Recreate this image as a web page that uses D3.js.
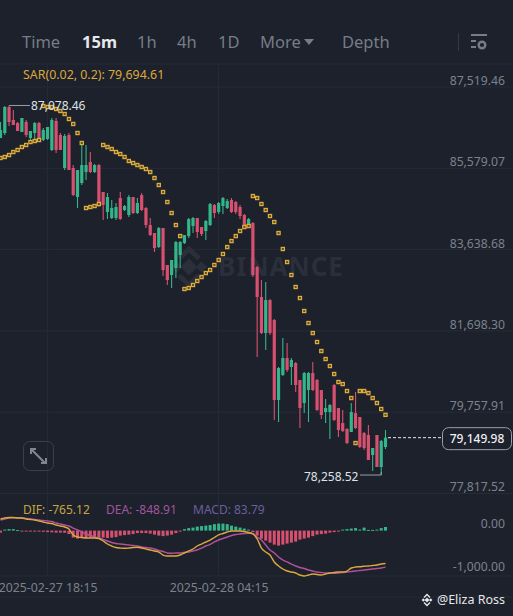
<!DOCTYPE html>
<html>
<head>
<meta charset="utf-8">
<script src="https://cdn.jsdelivr.net/npm/d3@7"></script>
<style>
  html, body { margin: 0; padding: 0; background: #1c212c; }
  svg { display: block; font-family: "Noto Sans", sans-serif; }
</style>
</head>
<body>
<div id="chart"></div>
<script>
// candles
const opens = [86302,86421,87042,86732,86660,86445,86684,86302,86421,86660,
  86254,86278,86016,86708,86374,85586,86374,85586,84894,85228,
  85490,85729,85490,85657,85013,84535,84392,84392,84870,84583,
  84464,84894,84512,84941,84631,84225,84034,83700,84154,83271,
  83032,83199,83510,83795,83962,84201,84392,84177,84082,84225,
  84703,84535,84679,84631,84822,84774,84655,84464,84225,84273,
  83223,82507,81647,82435,81958,80049,80646,81051,80836,80931,
  80526,79977,80287,80693,80526,80287,79762,79762,80407,79858,
  79499,79357,79285,79738,79643,79261,79214,78736,79214,78450,78927];
const closes = [86493,87042,86684,86613,86469,86780,86374,86469,86660,86254,
  86493,86565,86732,86016,86016,86350,85538,84941,85538,85657,
  85657,85490,85657,84750,84703,84894,84631,84655,84368,84679,
  84894,84512,84750,84583,84225,83986,83676,84154,83151,82913,
  83390,83819,83819,83986,84368,84392,84058,84010,84321,84727,
  84512,84750,84870,84798,84535,84535,84440,84225,84368,83032,
  82507,81647,82435,81647,80049,80812,81051,80765,81003,80407,
  79858,80693,80693,80287,79810,79691,79858,79929,79571,79333,
  79309,79022,79762,79381,78927,78903,78617,78903,78450,79070,79149.98];
const highs = [86684,87066,87078.46,86970,86684,86780,86732,86469,86684,86684,
  86541,86565,86780,86780,86421,86398,86421,85657,85538,86135,
  86135,85968,85681,85681,85013,84989,84822,84750,85013,84703,
  84941,84894,84870,84989,84655,84392,84034,84177,84154,83271,
  83390,83843,83843,83986,84392,84416,84392,84177,84345,84750,
  84727,84774,84894,84846,84870,84798,84703,84488,84392,84297,
  83247,82913,82865,82459,81982,80836,81529,81409,81051,80955,
  80526,80717,80717,80955,80550,80287,80073,79953,80430,79858,
  79810,79381,79977,80239,79643,79285,79452,78903,79214,79094,79333];
const lows = [86302,86374,86589,86613,86469,86445,86326,86206,86230,86206,
  86230,86254,85992,85944,86016,85538,85538,84917,84631,85180,
  85300,85466,85466,84655,84345,84368,84368,84345,84345,84559,
  84416,84488,84488,84559,84154,83962,83581,83676,83008,82794,
  82722,82960,83199,83772,83915,84034,83915,83962,83867,84201,
  84392,84488,84488,84607,84512,84488,84368,84201,84201,82984,
  81075,81624,81242,81600,79571,79524,80622,80717,80407,80239,
  79381,79738,79524,80263,79786,79595,79499,79118,79547,79166,
  79285,78998,79285,79357,78903,78855,78617,78354,78450,78258.52,78879];
const sar = [85825,85849,85896,85968,86016,86087,86135,86206,86230,86254,
  87066,87042,87042,86994,86947,86875,86756,86637,86421,86183,
  84631,84655,84679,84727,
  86135,86087,86040,85968,85920,85849,85753,85705,85657,85610,
  85562,85490,85347,85180,85013,84774,84512,84225,83962,
  82698,82722,82794,82889,82984,83079,83151,83271,83390,83534,
  83700,83843,83962,84082,84177,84201,
  84917,84870,84727,84583,84440,84297,84034,83653,83342,83032,
  82746,82483,82173,81886,81647,81433,81218,81027,80860,80669,
  80478,80430,80263,80096,79022,
  80263,80263,80215,80096,79977,79834,79694.61];

// macd pane
const dif = [270,293,305,305,293,293,270,258,247,223,
  200,177,165,130,107,84,37,-102,-149,-160,
  -172,-172,-172,-184,-242,-312,-358,-393,-405,-412,
  -405,-393,-388,-405,-428,-451,-474,-498,-568,-591,
  -591,-591,-568,-521,-474,-428,-358,-312,-265,-219,
  -160,-102,-67,-33,-9,-9,-9,-21,-44,-79,
  -195,-405,-498,-568,-730,-823,-893,-940,-963,-986,
  -1033,-1056,-1033,-1009,-1021,-1033,-1009,-986,-975,-963,
  -963,-940,-870,-847,-840,-830,-823,-812,-800,-777,-765.12];
const dea = [247,270,293,300,300,293,281,270,258,247,
  235,223,212,177,154,130,107,60,14,-33,
  -79,-114,-149,-172,-207,-242,-277,-300,-312,-323,
  -335,-347,-358,-381,-393,-405,-428,-463,-486,-521,
  -528,-521,-521,-505,-498,-474,-451,-405,-358,-323,
  -265,-219,-184,-149,-114,-91,-79,-67,-63,-67,
  -149,-219,-335,-451,-521,-614,-684,-730,-777,-823,
  -858,-882,-916,-940,-963,-975,-986,-991,-993,-986,
  -975,-963,-951,-940,-928,-916,-905,-893,-882,-870,-848.91];
const macd = [-47,23,35,35,12,-7,-12,-12,-16,-23,
  -28,-35,-40,-47,-47,-51,-81,-163,-186,-174,
  -174,-163,-174,-163,-163,-174,-163,-151,-116,-105,
  -93,-81,-58,-58,-58,-70,-93,-116,-128,-116,
  -93,-58,-23,35,58,70,93,105,116,128,
  151,163,163,151,116,93,70,47,23,-35,
  -116,-186,-233,-279,-326,-349,-326,-302,-279,-256,
  -209,-186,-163,-128,-93,-81,-70,-47,-35,-23,
  23,35,47,58,23,70,16,16,23,58,83.79];

// axis ticks
const priceTicks = [87519.46, 85579.07, 83638.68, 81698.30, 79757.91, 77817.52];
const macdTicks = [0, -1000];
const timeTicks = [11, 51];
const timeLabels = ["2025-02-27 18:15", "2025-02-28 04:15"];

// text
const navItems = ["Time", "15m", "1h", "4h", "1D", "More", "Depth"];
const navX = [22, 82, 137, 177, 218, 260, 342];

const width = 513, height = 616;
const bg = "#1c212c", grid = "#262b37", axisText = "#7c818c";
const red = "#d8506f", green = "#35b58a", yellow = "#dca93c", purple = "#b4519f";

const svg = d3.select("#chart").append("svg").attr("width", width).attr("height", height);
svg.append("rect").attr("width", width).attr("height", height).attr("fill", bg);

const x = d3.scaleLinear().domain([0, 90]).range([0.5, 385.5]);
const y = d3.scaleLinear().domain([77817.52, 87519.46]).range([493.5, 87]);
const yMacd = d3.scaleLinear().domain([-1000, 0]).range([573.6, 530.6]);
// plain hyphen for negatives, as in the app
const fmt = d => d3.format(",.2f")(d).replace("\u2212", "-");

// grid
[64, 576, 597].forEach(function (gy) {
  svg.append("line").attr("x1", 0).attr("x2", width).attr("y1", gy).attr("y2", gy).attr("stroke", grid);
});
svg.selectAll(".gridY").data(priceTicks).enter().append("line")
  .attr("x1", 0).attr("x2", width)
  .attr("y1", d => y(d)).attr("y2", d => y(d)).attr("stroke", grid);
svg.selectAll(".gridX").data(timeTicks).enter().append("line")
  .attr("x1", d => x(d)).attr("x2", d => x(d))
  .attr("y1", 64).attr("y2", 576).attr("stroke", grid);

// nav bar
svg.selectAll(".nav").data(navItems).enter().append("text")
  .attr("x", (d, i) => navX[i]).attr("y", 48)
  .attr("font-size", 16.5)
  .attr("font-weight", d => d == "15m" ? 700 : 400)
  .attr("fill", d => d == "15m" ? "#e6e8ea" : "#777c87")
  .text(d => d);
svg.append("path").attr("d", "M304 39h10l-5 6z").attr("fill", "#777c87");
svg.append("line").attr("x1", 458.5).attr("x2", 458.5).attr("y1", 33).attr("y2", 51).attr("stroke", "#333843");
const tool = svg.append("g").attr("fill", "#777c87");
tool.append("rect").attr("x", 471).attr("y", 34).attr("width", 16).attr("height", 2);
tool.append("rect").attr("x", 471).attr("y", 40).attr("width", 5).attr("height", 2);
tool.append("rect").attr("x", 471).attr("y", 46).attr("width", 5).attr("height", 2);
tool.append("circle").attr("cx", 482).attr("cy", 45).attr("r", 3.3).attr("fill", "none").attr("stroke", "#777c87").attr("stroke-width", 2.4);

svg.append("text").attr("x", 23).attr("y", 79).attr("font-size", 12.4).attr("fill", yellow)
  .text("SAR(0.02, 0.2): " + fmt(sar[sar.length - 1]));

// watermark
function binanceLogo(g, cx, cy, s, color) {
  const parts = [[0, 0, 0.3], [-0.62, 0, 0.2], [0.62, 0, 0.2]];
  parts.forEach(function (p) {
    g.append("rect").attr("x", cx + p[0] * s - p[2] * s).attr("y", cy + p[1] * s - p[2] * s)
      .attr("width", 2 * p[2] * s).attr("height", 2 * p[2] * s)
      .attr("transform", `rotate(45 ${cx + p[0] * s} ${cy + p[1] * s})`).attr("fill", color);
  });
  g.append("path").attr("fill", "none").attr("stroke", color).attr("stroke-width", s * 0.24)
    .attr("d", `M${cx - s * 0.5} ${cy - s * 0.42}L${cx} ${cy - s * 0.9}L${cx + s * 0.5} ${cy - s * 0.42}`
      + `M${cx - s * 0.5} ${cy + s * 0.42}L${cx} ${cy + s * 0.9}L${cx + s * 0.5} ${cy + s * 0.42}`);
}
binanceLogo(svg, 189, 267, 20, "#2a2f3a");
svg.append("text").attr("x", 218).attr("y", 276).attr("font-size", 26).attr("font-weight", 700)
  .attr("letter-spacing", 1).attr("fill", "#2a2f3a").text("BINANCE");

// candles
const candles = d3.range(opens.length);
const candleColor = i => closes[i] >= opens[i] ? green : red;
svg.append("g").selectAll("line").data(candles).enter().append("line")
  .attr("x1", i => x(i)).attr("x2", i => x(i))
  .attr("y1", i => y(highs[i])).attr("y2", i => y(lows[i]))
  .attr("stroke", candleColor).attr("stroke-width", 1.1);
svg.append("g").selectAll("rect").data(candles).enter().append("rect")
  .attr("x", i => x(i) - 1.6).attr("width", 3.2)
  .attr("y", i => y(Math.max(opens[i], closes[i])))
  .attr("height", i => Math.max(1, Math.abs(y(opens[i]) - y(closes[i]))))
  .attr("fill", candleColor);

// sar dots
svg.append("g").selectAll("rect").data(sar).enter().append("rect")
  .attr("x", (d, i) => x(i) - 1.6).attr("y", d => y(d) - 1.6)
  .attr("width", 3.2).attr("height", 3.2)
  .attr("fill", "#5d5029").attr("stroke", "#e0ae3e").attr("stroke-width", 1.2);

// high / low labels
const hiIdx = highs.indexOf(d3.max(highs)), loIdx = lows.indexOf(d3.min(lows));
svg.append("path").attr("fill", "none").attr("stroke", "#9a9ea6")
  .attr("d", `M${x(hiIdx)} ${y(highs[hiIdx])}H30`);
svg.append("text").attr("x", 31).attr("y", y(highs[hiIdx]) + 4.5).attr("font-size", 12).attr("fill", "#dfe1e5")
  .text(fmt(highs[hiIdx]));
svg.append("path").attr("fill", "none").attr("stroke", "#9a9ea6")
  .attr("d", `M${x(loIdx)} ${y(lows[loIdx]) - 3}V${y(lows[loIdx])}H360`);
svg.append("text").attr("x", 304).attr("y", y(lows[loIdx]) + 6).attr("font-size", 12).attr("fill", "#dfe1e5")
  .text(fmt(lows[loIdx]));

// price axis
const priceAxis = svg.append("g").attr("transform", "translate(505,0)")
  .call(d3.axisLeft(y).tickValues(priceTicks).tickSize(0).tickPadding(0).tickFormat(fmt));
priceAxis.select(".domain").remove();
priceAxis.selectAll("text").attr("dy", "-2.6px").attr("font-size", 12.2).attr("font-family", "Noto Sans").attr("fill", axisText);

// last price tag
const last = closes[closes.length - 1];
svg.append("line").attr("x1", 388).attr("x2", 442).attr("y1", y(last)).attr("y2", y(last))
  .attr("stroke", "#e6e8ea").attr("stroke-dasharray", "3 2");
svg.append("rect").attr("x", 442.5).attr("y", y(last) - 10).attr("width", 69).attr("height", 22).attr("rx", 6)
  .attr("fill", bg).attr("stroke", "#9a9ea6");
svg.append("text").attr("x", 477).attr("y", y(last) + 5.5).attr("text-anchor", "middle")
  .attr("font-size", 12).attr("font-weight", 500).attr("fill", "#eef0f2").text(fmt(last));

// expand button
svg.append("rect").attr("x", 23.5).attr("y", 441.5).attr("width", 30).attr("height", 29).attr("rx", 6)
  .attr("fill", "none").attr("stroke", "#3a3f4a");
svg.append("path").attr("fill", "none").attr("stroke", "#808590").attr("stroke-width", 2)
  .attr("d", "M31 454v-5h5M31 449l14 14M46 458v5h-5");

// macd pane
svg.append("g").selectAll("rect").data(macd).enter().append("rect")
  .attr("x", (d, i) => x(i) - 1.5).attr("width", 3)
  .attr("y", d => d >= 0 ? yMacd(d) : yMacd(0))
  .attr("height", d => Math.max(1, Math.abs(yMacd(d) - yMacd(0))))
  .attr("fill", d => d >= 0 ? green : red);
const macdLine = d3.line().x((d, i) => x(i)).y(d => yMacd(d)).curve(d3.curveMonotoneX);
svg.append("path").datum(dea).attr("d", macdLine).attr("fill", "none").attr("stroke", purple).attr("stroke-width", 1.4);
svg.append("path").datum(dif).attr("d", macdLine).attr("fill", "none").attr("stroke", yellow).attr("stroke-width", 1.4);

const legend = [["DIF: " + fmt(dif[90]), 23, "#c7a544"], ["DEA: " + fmt(dea[90]), 106, "#a0569a"], ["MACD: " + fmt(macd[90]), 193, "#6d5e9e"]];
svg.selectAll(".legend").data(legend).enter().append("text")
  .attr("x", d => d[1]).attr("y", 514).attr("font-size", 12).attr("fill", d => d[2]).text(d => d[0]);

const macdAxis = svg.append("g").attr("transform", "translate(505,0)")
  .call(d3.axisLeft(yMacd).tickValues(macdTicks).tickSize(0).tickPadding(0).tickFormat(fmt));
macdAxis.select(".domain").remove();
macdAxis.selectAll("text").attr("dy", "-3.6px").attr("font-size", 12.2).attr("font-family", "Noto Sans").attr("fill", axisText);

// time axis
const timeAxis = svg.append("g").attr("transform", "translate(0,576)")
  .call(d3.axisBottom(x).tickValues(timeTicks).tickSize(0).tickPadding(7).tickFormat((d, i) => timeLabels[i]));
timeAxis.select(".domain").remove();
timeAxis.selectAll("text").attr("font-size", 12.3).attr("font-family", "Noto Sans").attr("fill", axisText);

// watermark of the poster
binanceLogo(svg, 427, 600, 6, "#e6e8ea");
svg.append("text").attr("x", 505).attr("y", 604).attr("text-anchor", "end").attr("font-size", 12.5).attr("fill", "#e6e8ea").text("@Eliza Ross");
</script>
</body>
</html>
